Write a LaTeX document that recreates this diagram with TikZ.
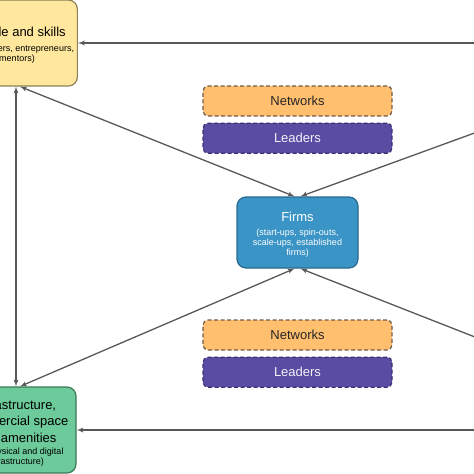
\documentclass[tikz,border=0pt]{standalone}
\usepackage{fontspec}
\setmainfont{Liberation Sans}
\usepackage{tikz}
\usetikzlibrary{arrows, positioning, calc}
\usepackage{xcolor}

\definecolor{skillsfill}{HTML}{FFE89E}
\definecolor{skillsline}{HTML}{8C8158}
\definecolor{infrafill}{HTML}{6DCA9B}
\definecolor{infraline}{HTML}{3D7A57}
\definecolor{firmsfill}{HTML}{3A94C5}
\definecolor{firmsline}{HTML}{2A6A8E}
\definecolor{netfill}{HTML}{FFBF6E}
\definecolor{netline}{HTML}{6E5A48}
\definecolor{leadfill}{HTML}{5A4CA2}
\definecolor{leadline}{HTML}{3B3174}
\definecolor{linkgray}{HTML}{585858}

\newcommand{\headtxt}{\fontsize{13}{10}\selectfont}
\newcommand{\subtxt}{\fontsize{9}{10}\selectfont}

\begin{document}
\begin{tikzpicture}[
    x=1pt, y=-1pt,
    box/.style={rectangle, rounded corners=9pt, draw, line width=1.2pt, align=center,
        font=\subtxt, execute at begin node={\lineskiplimit=-20pt}},
    skillsbox/.style={box, fill=skillsfill, draw=skillsline, minimum width=118pt, minimum height=86pt},
    infrabox/.style={box, fill=infrafill, draw=infraline, minimum width=120pt, minimum height=86pt},
    firmsbox/.style={box, fill=firmsfill, draw=firmsline, text=white, minimum width=121pt, minimum height=71pt},
    tagbox/.style={rectangle, rounded corners=5pt, draw, line width=1.2pt, dash pattern=on 4pt off 2.5pt,
        minimum width=189pt, minimum height=30pt, font=\headtxt},
    netbox/.style={tagbox, fill=netfill, draw=netline, text=black!85},
    leadbox/.style={tagbox, fill=leadfill, draw=leadline, text=white!92!leadfill},
    link/.style={-latex', line width=1.3pt, draw=linkgray},
    twolink/.style={latex'-latex', line width=1.3pt, draw=linkgray}
]
    \useasboundingbox (0,0) rectangle (474,474);
    \clip (0,0) rectangle (474,474);

    % Left column
    \node[skillsbox] (skills) at (17,43)
        {\headtxt\rule{0pt}{14pt}People and skills\\[5pt](researchers, entrepreneurs,\\ mentors)};
    \node[infrabox] (infra) at (16,430)
        {\headtxt\rule{0pt}{15pt}Infrastructure,\\[6.5pt]\headtxt commercial space\\[6.5pt]\headtxt and amenities\\[2pt]
         \hspace*{16pt}(physical and digital\\ infrastructure)};

    % Centre
    \node[firmsbox] (firms) at (297.5,232.5)
        {\headtxt\rule{0pt}{14pt}Firms\\[4pt](start-ups, spin-outs,\\ scale-ups, established\\ firms)};

    % Networks and leaders
    \node[netbox] (nets1) at (297.5,101) {Networks};
    \node[leadbox, below=6pt of nets1] (lead1) {Leaders};
    \node[netbox] (nets2) at (297.5,335) {Networks};
    \node[leadbox, below=6pt of nets2] (lead2) {Leaders};

    % Loose ends on the right
    \coordinate (topin) at (480,43);
    \coordinate (botin) at (480,430);
    \coordinate (upin) at (480,131);
    \coordinate (lowin) at (480,339);

    % Connectors
    \draw[link] (topin) -- (skills.east);
    \draw[link] (botin) -- (infra.east);
    \draw[twolink] (infra.north) -- ([xshift=-1pt]skills.south);
    \draw[twolink] ([xshift=3pt]skills.south) -- ([xshift=-3pt]firms.north);
    \draw[twolink] ([xshift=4pt]infra.north) -- ([xshift=-3pt]firms.south);
    \draw[link] (upin) -- ([xshift=3pt]firms.north);
    \draw[link] (lowin) -- ([xshift=3pt]firms.south);
\end{tikzpicture}
\end{document}
